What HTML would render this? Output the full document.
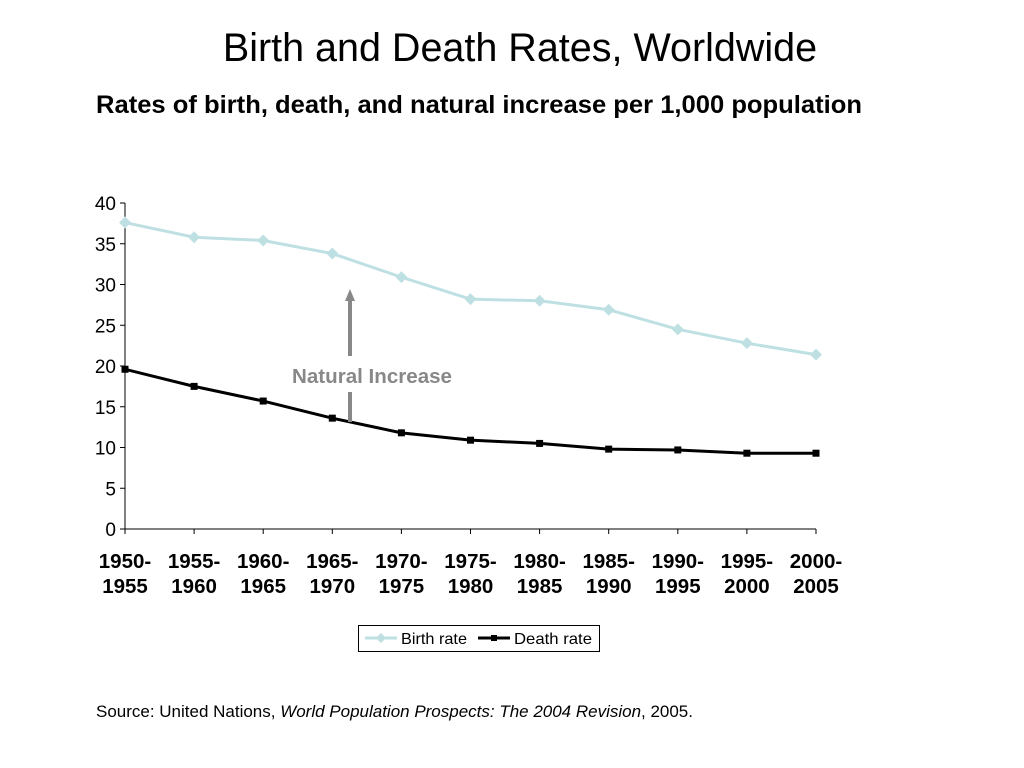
<!DOCTYPE html>
<html><head><meta charset="utf-8"><style>
body{margin:0;background:#fff;width:1024px;height:768px;overflow:hidden;font-family:"Liberation Sans",Arial,sans-serif}
svg{display:block}
</style></head><body>
<svg id="chart" width="1024" height="768" font-family="Liberation Sans, Arial, sans-serif">
<text x="520" y="61" text-anchor="middle" font-size="39.5" fill="#000">Birth and Death Rates, Worldwide</text>
<text x="479" y="113" text-anchor="middle" font-size="25" font-weight="bold" fill="#000" textLength="766" lengthAdjust="spacingAndGlyphs">Rates of birth, death, and natural increase per 1,000 population</text>
<g id="axes"></g>
<g id="series"></g>
<g>
<line x1="350" y1="422" x2="350" y2="392" stroke="#888" stroke-width="4"/>
<line x1="350" y1="356" x2="350" y2="300" stroke="#888" stroke-width="4"/>
<polygon points="350,289 345,301 355,301" fill="#888"/>
<text x="372" y="383" text-anchor="middle" font-size="20" font-weight="bold" fill="#888" textLength="160" lengthAdjust="spacingAndGlyphs">Natural  Increase</text>
</g>
<g>
<rect x="358.5" y="625.5" width="241" height="26" fill="#fff" stroke="#000" stroke-width="1"/>
<line x1="365" y1="638" x2="397" y2="638" stroke="#bfe0e2" stroke-width="3"/>
<polygon points="381,633 386,638 381,643 376,638" fill="#bfe0e2"/>
<text x="401" y="644" font-size="16" textLength="66" lengthAdjust="spacingAndGlyphs">Birth rate</text>
<line x1="478" y1="638" x2="510" y2="638" stroke="#000" stroke-width="3"/>
<rect x="491" y="635" width="6" height="6" fill="#000"/>
<text x="514" y="644" font-size="16" textLength="78" lengthAdjust="spacingAndGlyphs">Death rate</text>
</g>
<text x="96" y="717" font-size="17" textLength="597" lengthAdjust="spacingAndGlyphs">Source: United Nations, <tspan font-style="italic">World Population Prospects: The 2004 Revision</tspan>, 2005.</text>
</svg>
<script>
const categories=["1950-1955","1955-1960","1960-1965","1965-1970","1970-1975","1975-1980","1980-1985","1985-1990","1990-1995","1995-2000","2000-2005"];
const birthRate=[37.6,35.8,35.4,33.8,30.9,28.2,28.0,26.9,24.5,22.8,21.4];
const deathRate=[19.6,17.5,15.7,13.6,11.8,10.9,10.5,9.8,9.7,9.3,9.3];
const yTicks=[0,5,10,15,20,25,30,35,40];
const NS="http://www.w3.org/2000/svg";
const x0=125,x1=816,yb=529,yt=203,ymax=40;
function xs(i){return x0+i*(x1-x0)/(categories.length-1);}
function ys(v){return yb-(v/ymax)*(yb-yt);}
function mk(t,a,p){const e=document.createElementNS(NS,t);for(const k in a)e.setAttribute(k,a[k]);p.appendChild(e);return e;}
const axes=document.getElementById('axes');
const ya=mk('line',{x1:x0,y1:yt,x2:x0,y2:yb,stroke:'#000','stroke-width':1},axes);


const xa=mk('line',{x1:x0,y1:yb,x2:x1,y2:yb,stroke:'#000','stroke-width':1},axes);


yTicks.forEach(v=>{
 mk('line',{x1:x0-5,y1:ys(v),x2:x0,y2:ys(v),stroke:'#000'},axes);
 const t=mk('text',{x:x0-9,y:ys(v)+7,'text-anchor':'end','font-size':19},axes);
 t.textContent=v;
 
 
});
categories.forEach((c,i)=>{
 mk('line',{x1:xs(i),y1:yb,x2:xs(i),y2:yb+5,stroke:'#000'},axes);
 const p=c.split('-');
 const t=mk('text',{x:xs(i),y:568,'text-anchor':'middle','font-size':20.5,'font-weight':'bold'},axes);
 
 
 const a=mk('tspan',{x:xs(i),dy:0},t);a.textContent=p[0]+'-';
 const b=mk('tspan',{x:xs(i),dy:25},t);b.textContent=p[1];
});
const s=document.getElementById('series');
const bl=mk('polyline',{points:birthRate.map((v,i)=>xs(i)+','+ys(v)).join(' '),fill:'none',stroke:'#bfe0e2','stroke-width':3},s);


birthRate.forEach((v,i)=>{
 const d=mk('polygon',{points:`${xs(i)},${ys(v)-6} ${xs(i)+6},${ys(v)} ${xs(i)},${ys(v)+6} ${xs(i)-6},${ys(v)}`,fill:'#bfe0e2'},s);
 
 
});
const dl=mk('polyline',{points:deathRate.map((v,i)=>xs(i)+','+ys(v)).join(' '),fill:'none',stroke:'#000','stroke-width':3},s);


deathRate.forEach((v,i)=>{
 const r=mk('rect',{x:xs(i)-3.5,y:ys(v)-3.5,width:7,height:7,fill:'#000'},s);
 
 
});
</script>
</body></html>
